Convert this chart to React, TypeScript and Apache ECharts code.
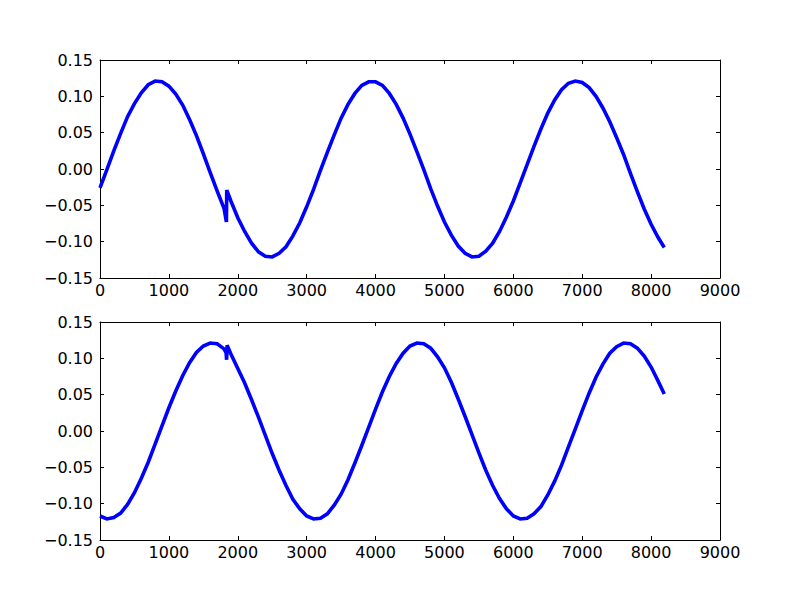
import React, { useEffect, useRef } from "react";
import * as echarts from "echarts";

// Top panel samples (x = sample index, y = amplitude)
const topX = [
  0, 100, 200, 300, 400, 500, 600, 700, 800, 900, 1000, 1100, 1200, 1300, 1400, 1500, 1600, 1700, 1800,
  1835, 1840, 1900, 2000, 2100, 2200, 2300, 2400, 2500, 2600, 2700, 2800, 2900, 3000, 3100, 3200, 3300,
  3400, 3500, 3600, 3700, 3800, 3900, 4000, 4100, 4200, 4300, 4400, 4500, 4600, 4700, 4800, 4900, 5000,
  5100, 5200, 5300, 5400, 5500, 5600, 5700, 5800, 5900, 6000, 6100, 6200, 6300, 6400, 6500, 6600, 6700,
  6800, 6900, 7000, 7100, 7200, 7300, 7400, 7500, 7600, 7700, 7800, 7900, 8000, 8100, 8191,
];
const topY = [
  -0.026, -0.001, 0.025, 0.049, 0.072, 0.09, 0.105, 0.116, 0.121, 0.12, 0.114, 0.103, 0.088, 0.068, 0.046,
  0.021, -0.005, -0.03, -0.054, -0.073, -0.029, -0.044, -0.067, -0.086, -0.102, -0.114, -0.12, -0.121,
  -0.116, -0.107, -0.092, -0.074, -0.052, -0.028, -0.002, 0.023, 0.047, 0.07, 0.089, 0.104, 0.115, 0.12,
  0.12, 0.115, 0.104, 0.089, 0.07, 0.048, 0.024, -0.001, -0.027, -0.051, -0.073, -0.091, -0.106, -0.116,
  -0.121, -0.12, -0.113, -0.102, -0.086, -0.066, -0.044, -0.019, 0.006, 0.031, 0.055, 0.077, 0.095, 0.109,
  0.118, 0.121, 0.119, 0.112, 0.1, 0.084, 0.065, 0.043, 0.02, -0.006, -0.031, -0.055, -0.076, -0.094, -0.108,
];

// Bottom panel samples
const botX = [
  0, 100, 200, 300, 400, 500, 600, 700, 800, 900, 1000, 1100, 1200, 1300, 1400, 1500, 1600, 1700, 1800,
  1830, 1838, 1845, 1900, 2000, 2100, 2200, 2300, 2400, 2500, 2600, 2700, 2800, 2900, 3000, 3100, 3200,
  3300, 3400, 3500, 3600, 3700, 3800, 3900, 4000, 4100, 4200, 4300, 4400, 4500, 4600, 4700, 4800, 4900,
  5000, 5100, 5200, 5300, 5400, 5500, 5600, 5700, 5800, 5900, 6000, 6100, 6200, 6300, 6400, 6500, 6600,
  6700, 6800, 6900, 7000, 7100, 7200, 7300, 7400, 7500, 7600, 7700, 7800, 7900, 8000, 8100, 8191,
];
const botY = [
  -0.117, -0.121, -0.119, -0.113, -0.101, -0.085, -0.065, -0.043, -0.018, 0.007, 0.032, 0.055, 0.076, 0.094,
  0.108, 0.117, 0.121, 0.12, 0.113, 0.108, 0.098, 0.118, 0.106, 0.086, 0.066, 0.043, 0.019, -0.006, -0.031,
  -0.054, -0.075, -0.094, -0.107, -0.117, -0.121, -0.12, -0.114, -0.102, -0.087, -0.067, -0.044, -0.02,
  0.005, 0.03, 0.054, 0.075, 0.093, 0.107, 0.117, 0.121, 0.12, 0.114, 0.102, 0.087, 0.067, 0.044, 0.02,
  -0.005, -0.03, -0.054, -0.075, -0.093, -0.107, -0.117, -0.121, -0.12, -0.114, -0.104, -0.088, -0.069,
  -0.047, -0.022, 0.003, 0.028, 0.052, 0.074, 0.092, 0.107, 0.116, 0.121, 0.12, 0.114, 0.103, 0.088, 0.069,
  0.051,
];

const X_MIN = 0;
const X_MAX = 9000;
const X_STEP = 1000;
const Y_MIN = -0.15;
const Y_MAX = 0.15;
const Y_STEP = 0.05;

const FONT = "DejaVu Sans";

function fmtY(v: number) {
  return v.toFixed(2).replace("-", "\u2212");
}

export default function App() {
  const ref = useRef<HTMLDivElement>(null);

  useEffect(() => {
    if (!ref.current) return;
    const chart = echarts.init(ref.current, undefined, { renderer: "svg" });

    const grids = [
      { left: 100, top: 60, width: 620, height: 218 },
      { left: 100, top: 322, width: 620, height: 218 },
    ];

    const tick = { show: true, inside: true, length: 4, lineStyle: { color: "#000", width: 1 } };
    const line = { show: true, onZero: false, lineStyle: { color: "#000", width: 1 } };

    const xAxes: any[] = [];
    const yAxes: any[] = [];
    grids.forEach((_, gi) => {
      xAxes.push({
        type: "value",
        gridIndex: gi,
        position: "bottom",
        min: X_MIN,
        max: X_MAX,
        interval: X_STEP,
        axisLine: line,
        axisTick: tick,
        splitLine: { show: false },
        axisLabel: {
          color: "#000",
          fontFamily: FONT,
          fontSize: 16,
          margin: 4,
          formatter: (v: number) => String(v),
        },
      });
      xAxes.push({
        type: "value",
        gridIndex: gi,
        position: "top",
        min: X_MIN,
        max: X_MAX,
        interval: X_STEP,
        axisLine: line,
        axisTick: tick,
        splitLine: { show: false },
        axisLabel: { show: false },
      });
      yAxes.push({
        type: "value",
        gridIndex: gi,
        position: "left",
        min: Y_MIN,
        max: Y_MAX,
        interval: Y_STEP,
        axisLine: line,
        axisTick: tick,
        splitLine: { show: false },
        axisLabel: { color: "#000", fontFamily: FONT, fontSize: 16, margin: 7, formatter: fmtY },
      });
      yAxes.push({
        type: "value",
        gridIndex: gi,
        position: "right",
        min: Y_MIN,
        max: Y_MAX,
        interval: Y_STEP,
        axisLine: line,
        axisTick: tick,
        splitLine: { show: false },
        axisLabel: { show: false },
      });
    });

    const topData = topX.map((x, i) => [x, topY[i]]);
    const botData = botX.map((x, i) => [x, botY[i]]);

    chart.setOption({
      animation: false,
      backgroundColor: "#fff",
      grid: grids,
      xAxis: xAxes,
      yAxis: yAxes,
      series: [
        {
          type: "line",
          xAxisIndex: 0,
          yAxisIndex: 0,
          data: topData,
          showSymbol: false,
          symbol: "none",
          lineStyle: { color: "#0000ff", width: 3.6, join: "miter" },
        },
        {
          type: "line",
          xAxisIndex: 2,
          yAxisIndex: 2,
          data: botData,
          showSymbol: false,
          symbol: "none",
          lineStyle: { color: "#0000ff", width: 3.6, join: "miter" },
        },
      ],
    });

    return () => chart.dispose();
  }, []);

  return (
    <div
      ref={ref}
      style={{ position: "absolute", left: 0, top: 0, width: 800, height: 600, background: "#fff" }}
    />
  );
}
